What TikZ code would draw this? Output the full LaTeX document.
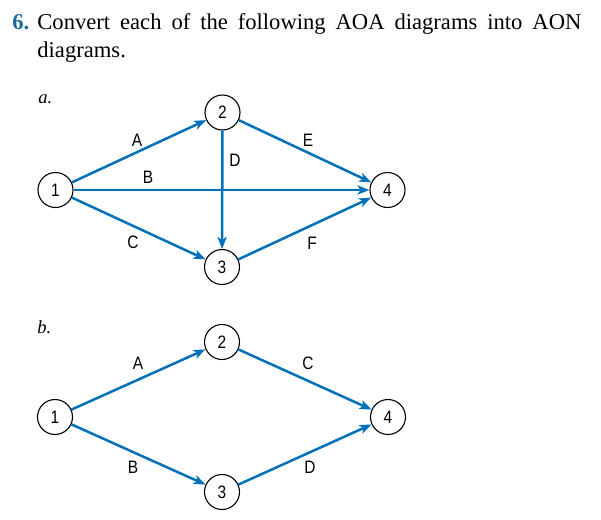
\documentclass[tikz,border=0pt]{standalone}
\usepackage{fontspec}
\setmainfont{Liberation Serif}
\newfontfamily\lblfont[FakeStretch=0.86]{Liberation Sans}
\usetikzlibrary{arrows.meta}
\definecolor{netblue}{RGB}{0,112,186}
\definecolor{numblue}{RGB}{28,108,148}
\tikzset{
  event/.style={circle,draw,line width=0.55pt,minimum size=17.5pt,inner sep=0pt,font=\lblfont\fontsize{9}{9}\selectfont},
  activity/.style={draw=netblue,line width=1.25pt,-{Stealth[length=6pt,width=4.6pt,inset=1.6pt]}},
  actlabel/.style={font=\lblfont\fontsize{9}{9}\selectfont,inner sep=0pt},
  partlabel/.style={anchor=base west,inner sep=0pt,font=\itshape\fontsize{9.3}{10}\selectfont}
}
\begin{document}
\begin{tikzpicture}[x=0.5pt,y=-0.5pt]
            \useasboundingbox (0,0) rectangle (601,520);
            % question text
            \node (num) [anchor=base west,inner sep=0pt,text=numblue,font=\bfseries\fontsize{11.3}{14}\selectfont] at (12,29) {6.};
            \node (question) [anchor=north west,inner sep=0pt,text width=272pt,align=justify,font=\fontsize{11.3}{14}\selectfont] at (37,13.6) {Convert each of the following AOA diagrams into AON\linebreak diagrams.};
            % part a
            \node (parta) [partlabel] at (38,103) {a.};
            \node (a1) [event] at (55.5,190) {1};
            \node (a2) [event] at (222.5,112.5) {2};
            \node (a3) [event] at (222,267) {3};
            \node (a4) [event] at (387.5,190) {4};
            \draw[activity] (a1) -- (a2);
            \draw[activity] (a1) -- (a4);
            \draw[activity] (a1) -- (a3);
            \draw[activity] (a2) -- (a3);
            \draw[activity] (a2) -- (a4);
            \draw[activity] (a3) -- (a4);
            \node (aA) [actlabel] at (137,140) {A};
            \node (aB) [actlabel] at (148,177) {B};
            \node (aC) [actlabel] at (133,242) {C};
            \node (aD) [actlabel] at (235,160) {D};
            \node (aE) [actlabel] at (308,140) {E};
            \node (aF) [actlabel] at (312,243) {F};
            % part b
            \node (partb) [partlabel] at (37,333) {b.};
            \node (b1) [event] at (55,417) {1};
            \node (b2) [event] at (222,342) {2};
            \node (b3) [event] at (222,492) {3};
            \node (b4) [event] at (388,417) {4};
            \draw[activity] (b1) -- (b2);
            \draw[activity] (b1) -- (b3);
            \draw[activity] (b2) -- (b4);
            \draw[activity] (b3) -- (b4);
            \node (bA) [actlabel] at (138,363) {A};
            \node (bB) [actlabel] at (133,467) {B};
            \node (bC) [actlabel] at (308,363) {C};
            \node (bD) [actlabel] at (310,467) {D};
\end{tikzpicture}
\end{document}
